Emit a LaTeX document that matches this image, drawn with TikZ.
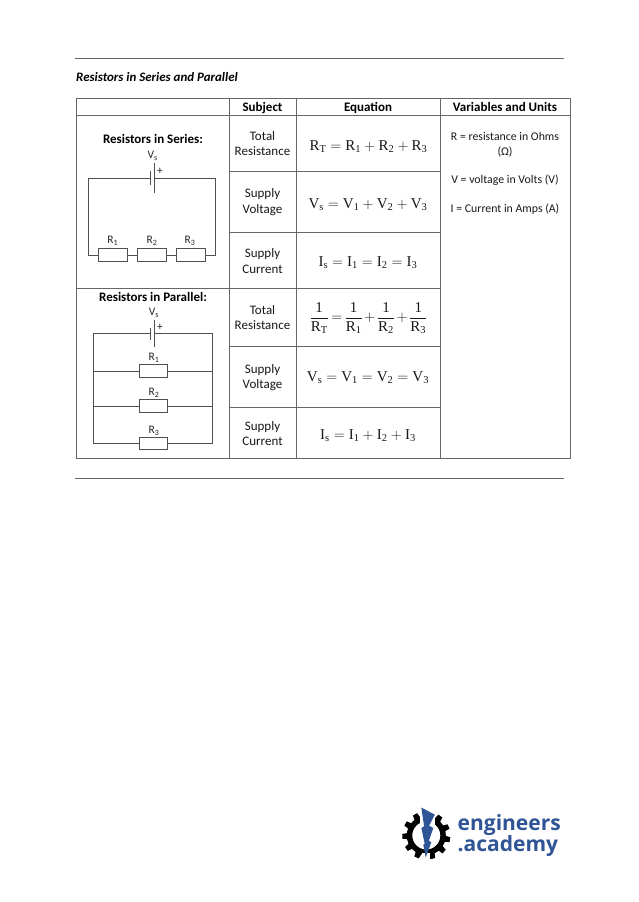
\documentclass[tikz,border=0pt]{standalone}
\usepackage{fontspec}
\usepackage{amsmath}
\setmainfont{Carlito}
\setmathrm{Liberation Serif}
\newfontfamily\logofont{Open Sans}
\definecolor{rule}{HTML}{666666}
\definecolor{wire}{HTML}{505050}
\definecolor{logoblue}{HTML}{2F5597}
\newcommand\Eq[1]{\fontsize{15}{18}\selectfont$\mathrm{#1}$}
\newcommand\Fr[2]{\dfrac{\mathrm{#1}}{\mathrm{#2}}}
\tikzset{
  x=1pt,y=-1pt,
  gridline/.style={draw=rule,line width=1pt},
  wireline/.style={draw=wire,line width=0.9pt},
  plate/.style={draw=wire,line width=0.9pt},
  resistor/.style={draw=wire,line width=0.9pt,fill=white,rectangle,inner sep=0pt,minimum width=29pt,minimum height=12.5pt},
  body/.style={font=\fontsize{13}{15.8}\selectfont,align=center,text=black!90,inner sep=0pt},
  vars/.style={font=\fontsize{11.8}{15}\selectfont,align=center,text=black!90,inner sep=0pt},
  head/.style={font=\bfseries\fontsize{13}{15.8}\selectfont,inner sep=0pt,text=black},
  colhead/.style={head,anchor=base},
  comp/.style={font=\fontsize{11.5}{12}\selectfont,inner sep=0pt,text=black!85},
  eqn/.style={inner sep=0pt,text=black!90},
  logotext/.style={font=\logofont\bfseries\fontsize{21}{21}\selectfont,text=logoblue,anchor=base west,inner sep=0pt},
}
\begin{document}
\begin{tikzpicture}
\useasboundingbox (0,0) rectangle (638,902);
\fill[white] (0,0) rectangle (638,902);
% page rules
\coordinate (ruleAl) at (75,58); \coordinate (ruleAr) at (563.5,58);
\coordinate (ruleBl) at (75,478); \coordinate (ruleBr) at (563.5,478);
\draw[gridline] (ruleAl) -- (ruleAr);
\draw[gridline] (ruleBl) -- (ruleBr);
\node[font=\bfseries\itshape\fontsize{12.9}{14}\selectfont,anchor=west,inner sep=0pt,text=black] (title) at (76,77.5) {Resistors in Series and Parallel};
% table
\draw[gridline] (76,98.5) rectangle (570,458.5);
\draw[gridline] (229,98.5) -- (229,458.5);
\draw[gridline] (296,98.5) -- (296,458.5);
\draw[gridline] (440.5,98.5) -- (440.5,458.5);
\draw[gridline] (76,115) -- (570,115);
\draw[gridline] (229,171) -- (440.5,171);
\draw[gridline] (229,232) -- (440.5,232);
\draw[gridline] (76,288) -- (440.5,288);
\draw[gridline] (229,346) -- (440.5,346);
\draw[gridline] (229,407) -- (440.5,407);
% headers
\node[colhead] (hs) at (262.5,111) {Subject};
\node[colhead] (he) at (368,111) {Equation};
\node[colhead] (hv) at (505,111) {Variables and Units};
% subjects
\node[body] (s1) at (262.5,143.5) {Total\\Resistance};
\node[body] (s2) at (262.5,202.5) {Supply\\Voltage};
\node[body] (s3) at (262.5,261) {Supply\\Current};
\node[body] (s4) at (262.5,317.5) {Total\\Resistance};
\node[body] (s5) at (262.5,377.5) {Supply\\Voltage};
\node[body] (s6) at (262.5,433.5) {Supply\\Current};
% equations
\node[eqn] (e1) at (368.5,147) {\Eq{R_T = R_1 + R_2 + R_3}};
\node[eqn] (e2) at (368,205) {\Eq{V_s = V_1 + V_2 + V_3}};
\node[eqn] (e3) at (368,263) {\Eq{I_s = I_1 = I_2 = I_3}};
\node[eqn] (e4) at (368.5,318) {\fontsize{15}{18}\selectfont\medmuskip=2mu\thickmuskip=3mu$\Fr{1}{R_T}=\Fr{1}{R_1}+\Fr{1}{R_2}+\Fr{1}{R_3}$};
\node[eqn] (e5) at (368,378) {\Eq{V_s = V_1 = V_2 = V_3}};
\node[eqn] (e6) at (368,436) {\Eq{I_s = I_1 + I_2 + I_3}};
% variables
\node[vars] (v1) at (505,144.5) {R = resistance in Ohms\\(Ω)};
\node[vars] (v2) at (505,180.5) {V = voltage in Volts (V)};
\node[vars] (v3) at (505,209.5) {I = Current in Amps (A)};
% series circuit
\node[head] (hser) at (153,139) {Resistors in Series:};
\node[comp] (vs1) at (152.7,155.5) {V\textsubscript{s}};
\node[comp] (plus1) at (160,171) {+};
\coordinate (bs1) at (150,178); \coordinate (bl1) at (154.3,178);
\draw[plate] (150,171) -- (150,185);
\draw[plate] (154.3,163) -- (154.3,193);
\node[resistor] (sr1) at (112.8,255) {};
\node[resistor] (sr2) at (152,255) {};
\node[resistor] (sr3) at (191,255) {};
\coordinate (stl) at (88.7,178); \coordinate (str) at (215.7,178);
\coordinate (sbl) at (88.7,255); \coordinate (sbr) at (215.7,255);
\draw[wireline] (bs1) -- (stl) -- (sbl) -- (sr1.west);
\draw[wireline] (bl1) -- (str) -- (sbr) -- (sr3.east);
\draw[wireline] (sr1.east) -- (sr2.west);
\draw[wireline] (sr2.east) -- (sr3.west);
\node[comp] (l1) at (112.7,241) {R\textsubscript{1}};
\node[comp] (l2) at (152,241) {R\textsubscript{2}};
\node[comp] (l3) at (190,241) {R\textsubscript{3}};
% parallel circuit
\node[head] (hpar) at (153,296.5) {Resistors in Parallel:};
\node[comp] (vs2) at (154,312.5) {V\textsubscript{s}};
\node[comp] (plus2) at (160,327) {+};
\coordinate (bs2) at (150.3,333.7); \coordinate (bl2) at (154.7,333.7);
\draw[plate] (150.3,328) -- (150.3,340);
\draw[plate] (154.7,320) -- (154.7,347);
\node[resistor,minimum width=27.5pt] (pr1) at (153.4,371) {};
\node[resistor,minimum width=27.5pt] (pr2) at (153.4,406) {};
\node[resistor,minimum width=27.5pt] (pr3) at (153.4,443.3) {};
\coordinate (ptl) at (93,333.7); \coordinate (ptr) at (212.3,333.7);
\coordinate (p1l) at (93,371); \coordinate (p1r) at (212.3,371);
\coordinate (p2l) at (93,406); \coordinate (p2r) at (212.3,406);
\coordinate (p3l) at (93,443.3); \coordinate (p3r) at (212.3,443.3);
\draw[wireline] (bs2) -- (ptl) -- (p3l) -- (pr3.west);
\draw[wireline] (bl2) -- (ptr) -- (p3r) -- (pr3.east);
\draw[wireline] (p1l) -- (pr1.west); \draw[wireline] (pr1.east) -- (p1r);
\draw[wireline] (p2l) -- (pr2.west); \draw[wireline] (pr2.east) -- (p2r);
\node[comp] (pl1) at (154,358) {R\textsubscript{1}};
\node[comp] (pl2) at (154,393) {R\textsubscript{2}};
\node[comp] (pl3) at (154,431) {R\textsubscript{3}};
% logo
\begin{scope}[shift={(426.3,835.5)}]
  \foreach \a in {-90,-58,...,230}{
    \fill[black,rotate=\a+16] (17,-3.4) -- (24,-2.4) -- (24,2.4) -- (17,3.4) -- cycle;
  }
  \draw[black,line width=5.5pt] (0,0) circle (16.8);
  \fill[white] (-6.5,-27) rectangle (9,-8);
  \fill[white] (-4,17) rectangle (4,26);
  \fill[logoblue] (-5,-28) -- (8.5,-20.8) -- (2.8,-9.8) -- (7,-7.5) -- (2.6,5.2) -- (5,6.8) -- (-0.6,22) -- (-3,9.2) -- (-1.6,8) -- (-5,-7.5) -- (-2.2,-9.2) -- cycle;
\end{scope}
\node[logotext] (lg1) at (457.5,830.5) {engineers};
\node[logotext] (lg2) at (457.5,851.5) {.academy};
\end{tikzpicture}
\end{document}
